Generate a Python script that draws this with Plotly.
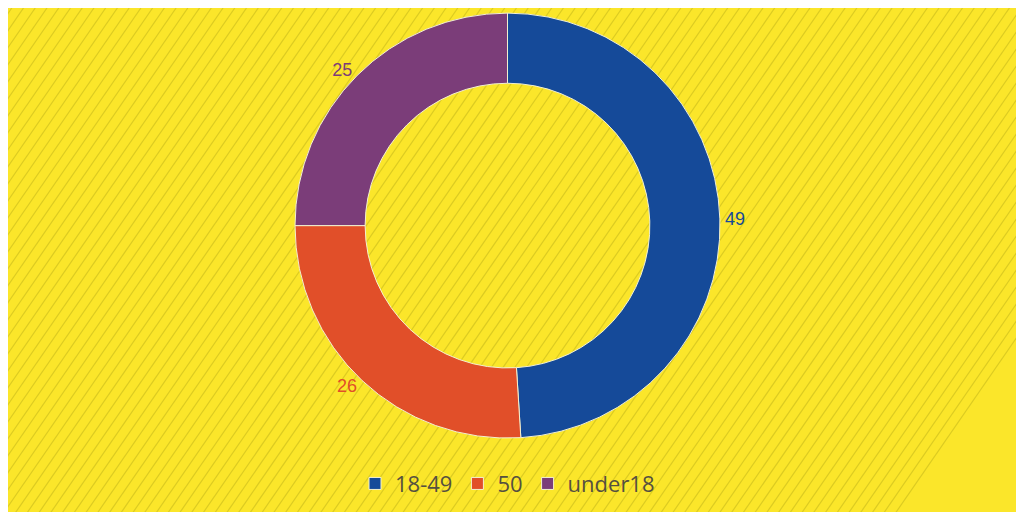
import plotly.graph_objects as go

labels = ["18-49", "50", "under18"]
values = [49, 26, 25]
colors = ["#154a99", "#e14f29", "#7b3d79"]

fig = go.Figure(go.Pie(
    labels=labels, values=values, hole=0.67, sort=False, direction="clockwise", rotation=0,
    marker=dict(colors=colors, line=dict(color="#f2f0d0", width=1)),
    textposition="outside", textinfo="value",
    textfont=dict(color=colors, size=18, family="Liberation Sans"),
    domain=dict(x=[0, 1], y=[0.16, 0.99]),
))

shapes = []
step = 17 / 1024
x0 = -1.0
while x0 < 1.05:
    shapes.append(dict(type="line", xref="paper", yref="paper", x0=x0, y0=0, x1=x0 + 0.5, y1=1,
                       line=dict(color="#dccb22", width=1.2), layer="below"))
    x0 += step

fig.update_layout(
    width=1024, height=512, margin=dict(l=0, r=0, t=0, b=0),
    paper_bgcolor="#fbe62a", plot_bgcolor="#fbe62a", shapes=shapes,
    font=dict(family="Open Sans", color="#555040"),
    legend=dict(orientation="h", x=0.5, xanchor="center", y=0.03, yanchor="bottom",
                font=dict(size=22, color="#555040"), bgcolor="rgba(0,0,0,0)"),
)
fig.write_html("out.html")
